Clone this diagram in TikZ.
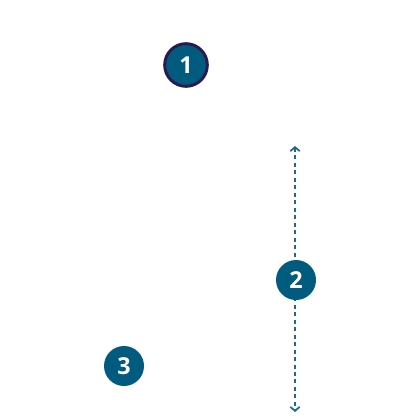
\documentclass[tikz,border=0pt]{standalone}
\usepackage{fontspec}
\setmainfont{Open Sans}
\usetikzlibrary{arrows.meta}

\definecolor{badgefill}{HTML}{005B7F}
\definecolor{badgeedge}{HTML}{2B1A4F}
\definecolor{guide}{HTML}{1F6A8A}

\tikzset{
  badge/.style={circle,fill=badgefill,text=white,inner sep=0pt,minimum size=30pt,font=\fontsize{17.5}{17.5}\selectfont\bfseries},
  guideline/.style={guide,line width=1.3pt,dash pattern=on 3pt off 2.6pt,{Straight Barb[length=3pt,width=7pt]}-{Straight Barb[length=3pt,width=7pt]}}
}

\begin{document}
\begin{tikzpicture}[x=0.75pt,y=0.75pt,yscale=-1,xscale=1]
\useasboundingbox (0,0) rectangle (420,420);

%Straight Lines
\coordinate (top) at (295,146);
\coordinate (bot) at (295,412);
\draw [guideline] (top) -- (bot) ;

% Badge
\node [badge,draw=badgeedge,line width=2.2pt,minimum size=32pt] (one) at (186,65) {1};
% Badge
\node [badge] (two) at (296,280) {2};
% Badge
\node [badge] (three) at (124,366) {3};

\end{tikzpicture}
\end{document}
